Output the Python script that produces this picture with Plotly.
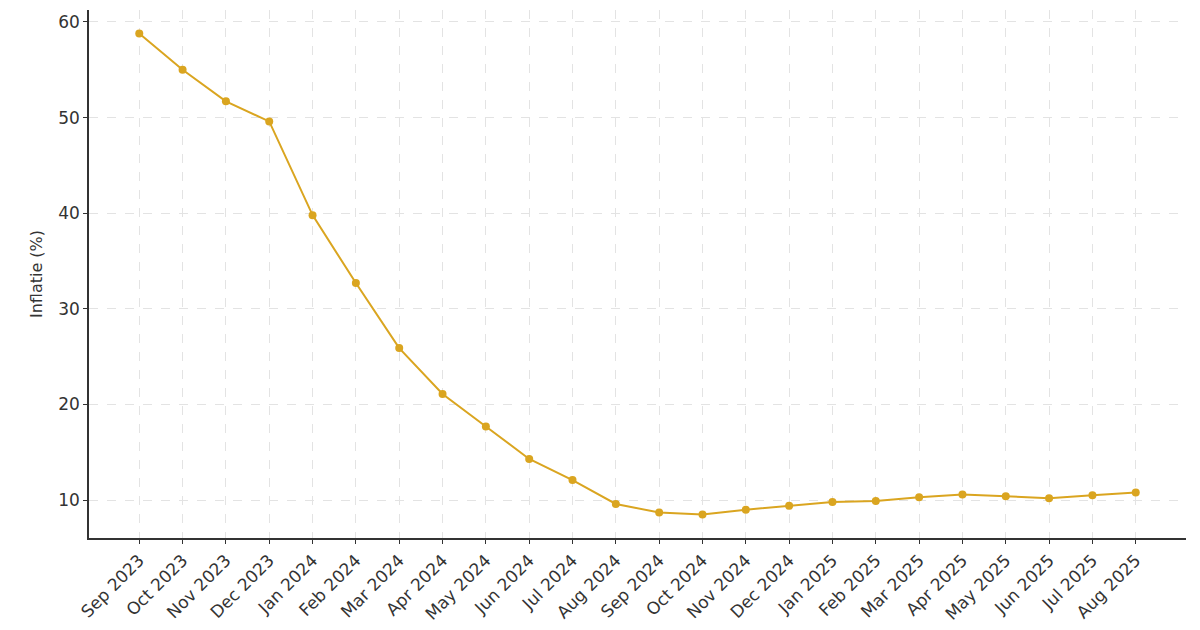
import plotly.graph_objects as go

months = ["Sep 2023","Oct 2023","Nov 2023","Dec 2023","Jan 2024","Feb 2024","Mar 2024","Apr 2024",
          "May 2024","Jun 2024","Jul 2024","Aug 2024","Sep 2024","Oct 2024","Nov 2024","Dec 2024",
          "Jan 2025","Feb 2025","Mar 2025","Apr 2025","May 2025","Jun 2025","Jul 2025","Aug 2025"]
inflation = [58.8, 55.0, 51.7, 49.6, 39.8, 32.7, 25.9, 21.1, 17.7, 14.3, 12.1, 9.6,
             8.7, 8.5, 9.0, 9.4, 9.8, 9.9, 10.3, 10.6, 10.4, 10.2, 10.5, 10.8]
yticks = [10, 20, 30, 40, 50, 60]

fig = go.Figure(go.Scatter(
    x=list(range(len(months))), y=inflation, mode="lines+markers",
    line=dict(color="#DAA520", width=2), marker=dict(color="#DAA520", size=8)))

fig.update_layout(
    width=1200, height=630, paper_bgcolor="white", plot_bgcolor="white",
    margin=dict(l=81, r=22, t=2, b=100), showlegend=False,
    font=dict(family="DejaVu Sans", color="#333", size=15))
fig.update_xaxes(range=[-1.16, 24.16], tickvals=list(range(len(months))), ticktext=months,
                 tickangle=-45, showgrid=True, gridcolor="#e3e3e3", griddash="dash",
                 showline=True, linecolor="#333", linewidth=1.5, ticks="outside",
                 ticklen=4, tickcolor="#333", tickfont=dict(size=17), zeroline=False)
fig.update_yaxes(range=[6.04, 61.25], tickvals=yticks, showgrid=True, gridcolor="#e3e3e3",
                 griddash="dash", showline=True, linecolor="#333", linewidth=1.5,
                 ticks="outside", ticklen=4, tickcolor="#333", tickfont=dict(size=17),
                 title=dict(text="Inflatie (%)", font=dict(size=16), standoff=12), zeroline=False)
fig.write_html("out.html")
